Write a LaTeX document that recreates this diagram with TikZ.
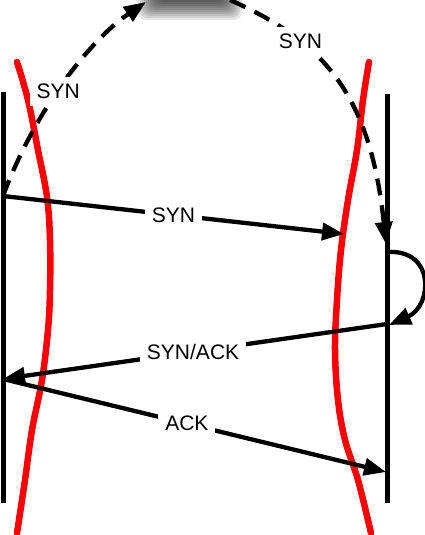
\documentclass[tikz,border=0pt]{standalone}
\usepackage{fontspec}
\setmainfont{Liberation Sans}
\usetikzlibrary{arrows.meta}
\tikzset{
  host/.style={line width=5pt, black},
  mbox/.style={line width=6.5pt, red, line cap=round},
  msg/.style={line width=4.3pt, black, -{Triangle[length=22pt,width=17pt]}},
  dmsg/.style={msg, dash pattern=on 17pt off 10pt},
  lbl/.style={fill=white, inner sep=7pt, font=\fontsize{21}{25}\selectfont, text=black},
}
\begin{document}
\begin{tikzpicture}[x=1pt,y=-1pt]
\useasboundingbox (0,0) rectangle (425,535);
\fill[white] (0,0) rectangle (425,535);
% shadow of an object above the picture
\foreach \i in {0,...,9}
  \fill[black, opacity=0.095, rounded corners=8pt] (138+2*\i,-30) rectangle (242-2*\i,20-2*\i);
\coordinate (cloudL) at (146,2);
\coordinate (cloudR) at (230,0);
% hosts
\coordinate (Atop) at (3,92);
\coordinate (Abot) at (3,503);
\coordinate (Btop) at (387,94);
\coordinate (Bbot) at (387,503);
\draw[host] (Atop) -- (Abot);
\draw[host] (Btop) -- (Bbot);
% red boundaries
\draw[mbox] plot[smooth, tension=0.6] coordinates {(17,62) (28,100) (38,150) (47,197) (50,240) (50,290) (48,330) (42,380) (32,430) (25,480) (17,533)};
\draw[mbox] plot[smooth, tension=0.6] coordinates {(369,62) (363,100) (357,150) (348,200) (341,250) (337,300) (335,350) (338,400) (345,440) (358,480) (371,533)};
% endpoints
\coordinate (A1) at (3,196);
\coordinate (Bsyn) at (344,234);
\coordinate (Bdash) at (386,244);
\coordinate (Bloop) at (387,252);
\coordinate (Bsa) at (389,325);
\coordinate (Bsa0) at (387,324);
\coordinate (A2) at (3,379);
\coordinate (Back) at (386,472);
% dashed SYN via upper path
\draw[dmsg] (A1) .. controls (35,110) and (90,40) .. node[lbl, pos=0.45] {SYN} (cloudL);
\draw[dmsg] (cloudR) .. controls (320,40) and (370,90) .. node[lbl, pos=0.3] {SYN} (Bdash);
% direct SYN
\draw[msg] (A1) -- node[lbl, pos=0.5] {SYN} (Bsyn);
% loop
\draw[msg] (Bloop) .. controls (436,249) and (432,306) .. (Bsa);
% SYN/ACK
\draw[msg] (Bsa0) -- node[lbl, pos=0.505] {SYN/ACK} (A2);
% ACK
\draw[msg] (A2) -- node[lbl, pos=0.48] {ACK} (Back);
\end{tikzpicture}
\end{document}
